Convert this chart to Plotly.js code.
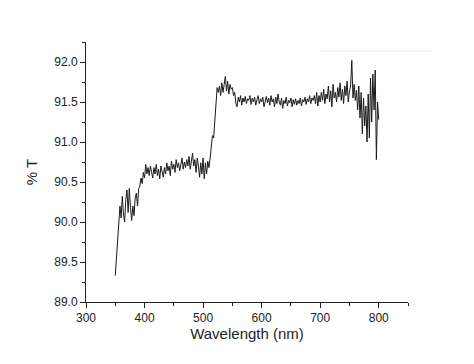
<!DOCTYPE html>
<html>
<head>
<meta charset="utf-8">
<script src="https://cdn.plot.ly/plotly-3.0.1.min.js"></script>
<style>html,body{margin:0;padding:0;background:#fff;}#chart{width:474px;height:364px;}</style>
</head>
<body>
<div id="chart"></div>
<script>
// Wavelength (nm)
const wavelength = [
350,352,354,356,358,360,362,364,366,368,370,372,374,376,378,380,382,384,386,388,390,392,394,396,398,
400,402,404,406,408,410,412,414,416,418,420,422,424,426,428,430,432,434,436,438,440,442,444,446,448,
450,452,454,456,458,460,462,464,466,468,470,472,474,476,478,480,482,484,486,488,490,492,494,496,498,
500,502,504,506,508,510,
512,514,516,518,520,522,524,526,
528,530,532,534,536,538,540,542,544,546,548,550,552,554,556,558,560,
562,564,566,568,570,572,574,576,578,580,582,584,586,588,590,592,594,596,598,600,602,604,606,608,610,
612,614,616,618,620,622,624,626,628,630,632,634,636,638,640,642,644,646,648,650,652,654,656,658,660,
662,664,666,668,670,672,674,676,678,680,682,684,686,688,690,
692,694,696,698,700,702,704,706,708,710,712,714,716,718,720,722,724,726,728,730,732,734,736,738,740,
742,744,746,748,750,
752,754,756,758,760,762,764,766,768,770,772,774,776,778,780,782,784,786,788,790,792,794,796,798,800
];
// Transmittance (%T)
const transmittance = [
89.33,89.55,89.80,89.98,90.20,90.05,90.32,90.10,90.00,90.28,90.40,90.12,90.42,90.18,90.02,90.20,90.08,90.30,90.36,90.20,90.42,90.45,90.55,90.48,90.62,
90.55,90.72,90.60,90.68,90.58,90.70,90.62,90.55,90.68,90.60,90.72,90.58,90.66,90.54,90.70,90.62,90.56,90.68,90.60,90.74,90.64,90.70,90.58,90.76,90.66,
90.72,90.62,90.78,90.68,90.74,90.64,90.72,90.80,90.66,90.75,90.68,90.78,90.70,90.82,90.66,90.76,90.86,90.70,90.78,90.62,90.80,90.70,90.56,90.74,90.60,
90.80,90.54,90.74,90.60,90.76,90.68,
90.80,90.98,91.08,91.05,91.25,91.55,91.68,91.62,
91.70,91.58,91.74,91.62,91.70,91.82,91.64,91.76,91.60,91.72,91.66,91.68,91.58,91.62,91.48,91.44,91.56,
91.50,91.58,91.46,91.55,91.50,91.57,91.48,91.54,91.52,91.58,91.47,91.55,91.50,91.56,91.46,91.53,91.58,91.48,91.54,91.50,91.56,91.44,91.52,91.57,91.49,
91.55,91.46,91.58,91.50,91.54,91.44,91.56,91.48,91.60,91.50,91.46,91.55,91.42,91.52,91.48,91.56,91.45,91.52,91.49,91.55,91.44,91.53,91.47,91.54,91.46,
91.52,91.48,91.55,91.45,91.53,91.50,91.56,91.47,91.54,91.50,91.58,91.48,91.55,91.52,91.58,
91.48,91.62,91.45,91.58,91.50,91.62,91.52,91.66,91.48,91.60,91.54,91.70,91.50,91.64,91.44,91.72,91.55,91.62,91.50,91.68,91.56,91.74,91.52,91.66,91.48,
91.70,91.58,91.76,91.50,91.64,
91.70,92.02,91.55,91.72,91.52,91.65,91.40,91.70,91.30,91.62,91.10,91.55,91.20,91.45,91.00,91.60,91.05,91.80,91.25,91.85,91.40,91.90,90.78,91.50,91.28
];
const xTitle = "Wavelength (nm)";
const yTitle = "% T";

const trace = {
  x: wavelength, y: transmittance, type: "scatter", mode: "lines",
  line: {color: "#1a1a1a", width: 1}, hoverinfo: "skip"
};

const fontFam = "Liberation Sans, Arial, sans-serif";
const layout = {
  width: 474, height: 364,
  margin: {l: 86, r: 66, t: 42, b: 62},
  paper_bgcolor: "#fff", plot_bgcolor: "#fff",
  showlegend: false,
  font: {family: fontFam, size: 12, color: "#222"},
  xaxis: {
    range: [300, 850], dtick: 100, tick0: 300,
    showgrid: false, zeroline: false,
    showline: true, linecolor: "#222", linewidth: 1,
    ticks: "outside", ticklen: 5, tickcolor: "#222", tickwidth: 1,
    minor: {dtick: 50, ticks: "outside", ticklen: 3, tickcolor: "#222", showgrid: false},
    tickfont: {family: fontFam, size: 12, color: "#222"},
    title: {text: xTitle, font: {family: fontFam, size: 15, color: "#222"}, standoff: 3}
  },
  yaxis: {
    range: [89, 92.25], dtick: 0.5, tick0: 89, tickformat: ".1f",
    showgrid: false, zeroline: false,
    showline: true, linecolor: "#222", linewidth: 1,
    ticks: "outside", ticklen: 5, tickcolor: "#222", tickwidth: 1,
    minor: {dtick: 0.25, ticks: "outside", ticklen: 3, tickcolor: "#222", showgrid: false},
    tickfont: {family: fontFam, size: 12, color: "#222"},
    title: {text: yTitle, font: {family: fontFam, size: 15, color: "#222"}, standoff: 12}
  },
  shapes: [{
    type: "line", xref: "paper", yref: "paper",
    x0: 0.73, x1: 1.075, y0: 0.965, y1: 0.965,
    line: {color: "#e6e6e6", width: 1}
  }]
};

Plotly.newPlot("chart", [trace], layout, {displayModeBar: false, staticPlot: true});
</script>
</body>
</html>
